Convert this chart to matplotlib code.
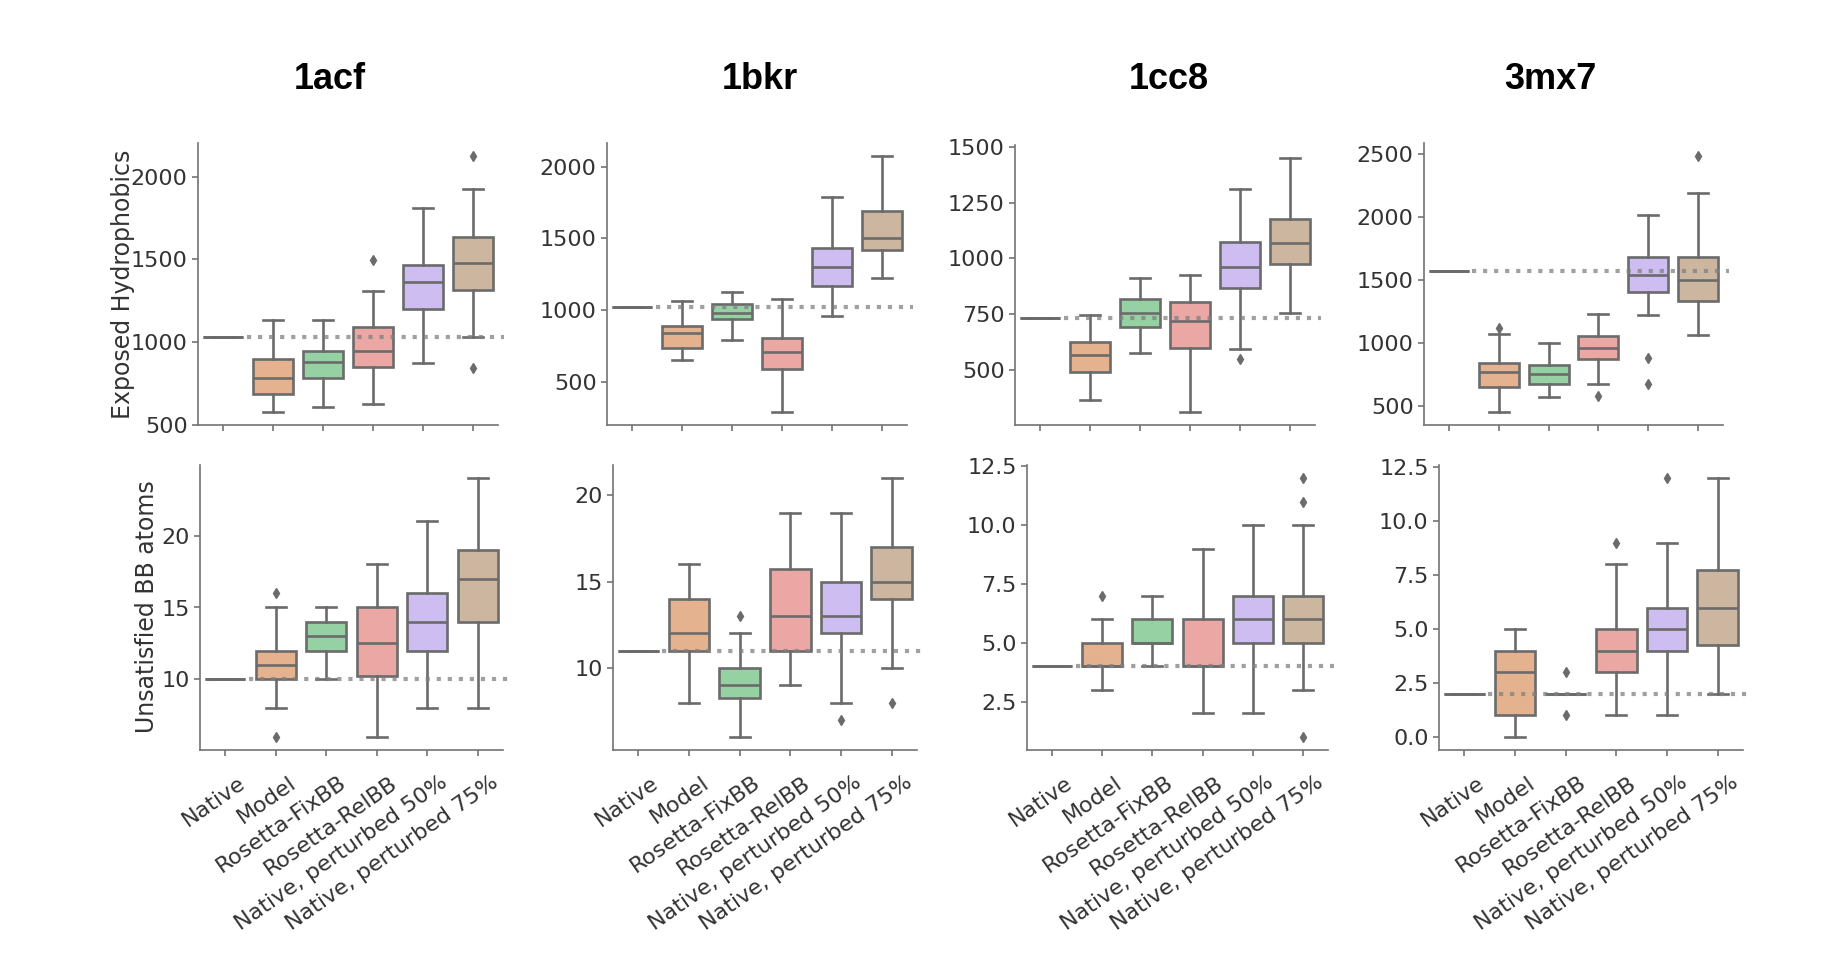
import matplotlib
matplotlib.use("Agg")
import matplotlib.pyplot as plt
import matplotlib.transforms as mtransforms
from matplotlib.ticker import MultipleLocator
import colorsys

# ---------------- data ----------------
categories = ["Native", "Model", "Rosetta-FixBB", "Rosetta-RelBB",
              "Native, perturbed 50%", "Native, perturbed 75%"]
proteins = ["1acf", "1bkr", "1cc8", "3mx7"]

# each row: (whisker low, q1, median, q3, whisker high)
exp_1acf = [(1032, 1032, 1032, 1032, 1032), (575, 686, 783, 898, 1136),
            (605, 781, 880, 946, 1136), (625, 850, 944, 1092, 1310),
            (870, 1203, 1364, 1464, 1813), (1031, 1314, 1480, 1635, 1930)]
exp_1acf_fliers = [[], [], [], [1494], [], [2128, 845]]

exp_1bkr = [(1023, 1023, 1023, 1023, 1023), (651, 733, 842, 891, 1063),
            (791, 935, 977, 1040, 1128), (286, 591, 707, 807, 1077),
            (960, 1165, 1302, 1430, 1786), (1221, 1416, 1502, 1693, 2077)]
exp_1bkr_fliers = [[], [], [], [], [], []]

exp_1cc8 = [(734, 734, 734, 734, 734), (363, 488, 566, 624, 747),
            (576, 692, 756, 819, 910), (309, 599, 717, 802, 926),
            (591, 865, 963, 1074, 1313), (757, 973, 1069, 1178, 1452)]
exp_1cc8_fliers = [[], [], [], [], [547], []]

exp_3mx7 = [(1569, 1569, 1569, 1569, 1569), (447, 649, 769, 835, 1066),
            (566, 673, 753, 822, 1000), (675, 870, 960, 1056, 1226),
            (1221, 1404, 1537, 1686, 2019), (1064, 1332, 1500, 1686, 2189)]
exp_3mx7_fliers = [[], [1120], [], [577], [875, 675], [2489]]

ubb_1acf = [(10, 10, 10, 10, 10), (8, 10, 11, 12, 15), (10, 12, 13, 14, 15),
            (6, 10.25, 12.5, 15, 18), (8, 12, 14, 16, 21), (8, 14, 17, 19, 24)]
ubb_1acf_fliers = [[], [16, 6], [], [], [], []]

ubb_1bkr = [(11, 11, 11, 11, 11), (8, 11, 12, 14, 16), (6, 8.25, 9, 10, 12),
            (9, 11, 13, 15.75, 19), (8, 12, 13, 15, 19), (10, 14, 15, 17, 21)]
ubb_1bkr_fliers = [[], [], [13], [], [7], [8]]

ubb_1cc8 = [(4, 4, 4, 4, 4), (3, 4, 4, 5, 6), (4, 5, 5, 6, 7),
            (2, 4, 4, 6, 9), (2, 5, 6, 7, 10), (3, 5, 6, 7, 10)]
ubb_1cc8_fliers = [[], [7], [], [], [], [12, 11, 1]]

ubb_3mx7 = [(2, 2, 2, 2, 2), (0, 1, 3, 4, 5), (2, 2, 2, 2, 2),
            (1, 3, 4, 5, 8), (1, 4, 5, 6, 9), (2, 4.25, 6, 7.75, 12)]
ubb_3mx7_fliers = [[], [], [3, 1], [9], [12], []]

row_labels = ["Exposed Hydrophobics", "Unsatisfied BB atoms"]

# ---------------- style ----------------
pastel = ["#a1c9f4", "#ffb482", "#8de5a1", "#ff9f9b", "#d0bbff", "#debb9b"]


def desat(hexc, prop=0.62):
    r, g, b = matplotlib.colors.to_rgb(hexc)
    h, l, s = colorsys.rgb_to_hls(r, g, b)
    return colorsys.hls_to_rgb(h, l * 0.97, s * prop)


box_colors = [desat(c) for c in pastel]
line_gray = (0.42, 0.42, 0.42)
spine_gray = (0.45, 0.45, 0.45)
text_col = (0.2, 0.2, 0.2)

W, H = 1846, 980
fig = plt.figure(figsize=(W / 100, H / 100), dpi=100)
fig.patch.set_facecolor("white")

# axes boxes in pixels: (left, right, top, bottom)
top_boxes = [(198, 498, 143, 425), (607, 907, 143, 425),
             (1015, 1315, 145, 425), (1424, 1723, 143, 425)]
bot_boxes = [(200, 503, 465, 750), (613, 917, 465, 750),
             (1027, 1328, 465, 750), (1439, 1743, 465, 750)]

top_data = [(exp_1acf, exp_1acf_fliers), (exp_1bkr, exp_1bkr_fliers),
            (exp_1cc8, exp_1cc8_fliers), (exp_3mx7, exp_3mx7_fliers)]
bot_data = [(ubb_1acf, ubb_1acf_fliers), (ubb_1bkr, ubb_1bkr_fliers),
            (ubb_1cc8, ubb_1cc8_fliers), (ubb_3mx7, ubb_3mx7_fliers)]
top_steps = [500, 500, 250, 500]
bot_steps = [5, 5, 2.5, 2.5]


def make_ax(box):
    l, r, t, b = box
    return fig.add_axes([l / W, 1 - b / H, (r - l) / W, (b - t) / H])


def draw_panel(ax, stats_rows, fliers, step, show_labels):
    stats = []
    for (lo, q1, med, q3, hi), fl in zip(stats_rows, fliers):
        stats.append(dict(whislo=lo, q1=q1, med=med, q3=q3, whishi=hi,
                          fliers=fl))
    lw = 1.9
    res = ax.bxp(stats, positions=list(range(len(stats))), widths=0.8,
                 patch_artist=True, showfliers=True,
                 boxprops=dict(edgecolor=line_gray, linewidth=lw),
                 medianprops=dict(color=line_gray, linewidth=lw),
                 whiskerprops=dict(color=line_gray, linewidth=lw),
                 capprops=dict(color=line_gray, linewidth=lw),
                 flierprops=dict(marker="d", markerfacecolor=line_gray,
                                 markeredgecolor=line_gray, markersize=5,
                                 linestyle="none"))
    for patch, c in zip(res["boxes"], box_colors):
        patch.set_facecolor(c)
    native = stats_rows[0][2]
    ax.hlines(native, 0.47, 5.62, colors="gray", linestyles=":",
              linewidth=3, alpha=0.75, clip_on=False, zorder=5)
    ax.set_xlim(-0.5, 5.5)
    ax.yaxis.set_major_locator(MultipleLocator(step))
    for s in ("top", "right"):
        ax.spines[s].set_visible(False)
    for s in ("left", "bottom"):
        ax.spines[s].set_color(spine_gray)
        ax.spines[s].set_linewidth(1.2)
    ax.tick_params(axis="both", colors=spine_gray, labelcolor=text_col,
                   labelsize=16, length=4, width=1.2)
    ax.set_xticks(list(range(len(categories))))
    if show_labels:
        ax.set_xticklabels(categories, rotation=35, ha="right",
                           fontsize=16)
        ax.tick_params(axis="x", pad=12)
        off = mtransforms.ScaledTranslation(24 / 100, 0, fig.dpi_scale_trans)
        for lab in ax.get_xticklabels():
            lab.set_transform(lab.get_transform() + off)
    else:
        ax.set_xticklabels([])


for i in range(4):
    ax = make_ax(top_boxes[i])
    draw_panel(ax, top_data[i][0], top_data[i][1], top_steps[i], False)
    ax2 = make_ax(bot_boxes[i])
    draw_panel(ax2, bot_data[i][0], bot_data[i][1], bot_steps[i], True)

# titles
title_x = [330, 760, 1169, 1550]
for name, x in zip(proteins, title_x):
    fig.text(x / W, 1 - 89 / H, name, ha="center", va="baseline",
             fontsize=26, fontweight="bold", family="Liberation Sans",
             color="black")

# row labels
fig.text(123 / W, 1 - 284 / H, row_labels[0], rotation=90, ha="center",
         va="center", fontsize=17, color=text_col)
fig.text(147 / W, 1 - 607 / H, row_labels[1], rotation=90, ha="center",
         va="center", fontsize=17, color=text_col)

fig.savefig("out.png", dpi=100, facecolor="white")
